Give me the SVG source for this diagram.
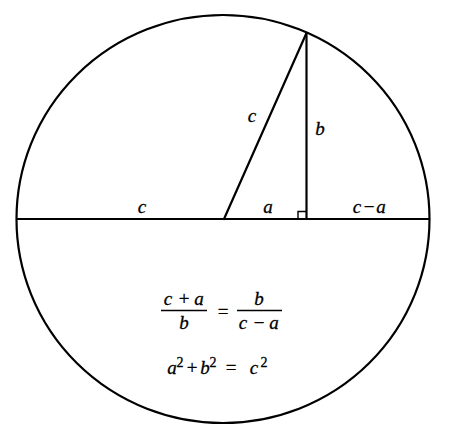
<svg xmlns="http://www.w3.org/2000/svg" width="456" height="445" viewBox="0 0 456 445">
<style>
.ln{stroke:#000;stroke-width:2.2;fill:none;stroke-linecap:round}
.thin{stroke:#000;stroke-width:1.4;fill:none}
text{font-family:"Liberation Serif","DejaVu Serif",serif;font-style:italic;font-size:19px;fill:#000;stroke:#000;stroke-width:0.3}
.up{font-style:normal}
.sup{font-size:14px;font-style:normal}
</style>
<rect width="456" height="445" fill="#fff"/>
<g id="circle"><ellipse class="ln" cx="223" cy="219" rx="206.5" ry="204"/></g>
<g id="connectors">
<line class="ln" x1="17" y1="219" x2="429" y2="219"/>
<line class="ln" x1="224" y1="219" x2="306.5" y2="33"/>
<line class="ln" x1="306.5" y1="33" x2="306.5" y2="219"/>
<polyline class="thin" points="298,219 298,211.5 306,211.5"/>
</g>
<g id="labels">
<text x="142" y="213" text-anchor="middle">c</text>
<text x="268" y="213" text-anchor="middle">a</text>
<text x="357" y="213" text-anchor="middle">c</text>
<text class="up" x="369" y="213" text-anchor="middle">−</text>
<text x="381" y="213" text-anchor="middle">a</text>
<text x="252" y="122" text-anchor="middle">c</text>
<text x="320" y="135" text-anchor="middle">b</text>
</g>
<g id="formula1">
<text x="168" y="305" text-anchor="middle">c</text>
<text class="up" x="184" y="305" text-anchor="middle">+</text>
<text x="199" y="305" text-anchor="middle">a</text>
<line class="thin" x1="161" y1="310.5" x2="207" y2="310.5"/>
<text x="184" y="329" text-anchor="middle">b</text>
<text class="up" x="223" y="318" text-anchor="middle">=</text>
<text x="259" y="305" text-anchor="middle">b</text>
<line class="thin" x1="237" y1="310.5" x2="282" y2="310.5"/>
<text x="243" y="329" text-anchor="middle">c</text>
<text class="up" x="259" y="329" text-anchor="middle">−</text>
<text x="274" y="329" text-anchor="middle">a</text>
</g>
<g id="formula2">
<text x="172" y="374" text-anchor="middle">a</text>
<text class="sup" x="180" y="367" text-anchor="middle">2</text>
<text class="up" x="192" y="374" text-anchor="middle">+</text>
<text x="205" y="374" text-anchor="middle">b</text>
<text class="sup" x="213" y="367" text-anchor="middle">2</text>
<text class="up" x="231" y="374" text-anchor="middle">=</text>
<text x="254" y="374" text-anchor="middle">c</text>
<text class="sup" x="264" y="367" text-anchor="middle">2</text>
</g>
</svg>
